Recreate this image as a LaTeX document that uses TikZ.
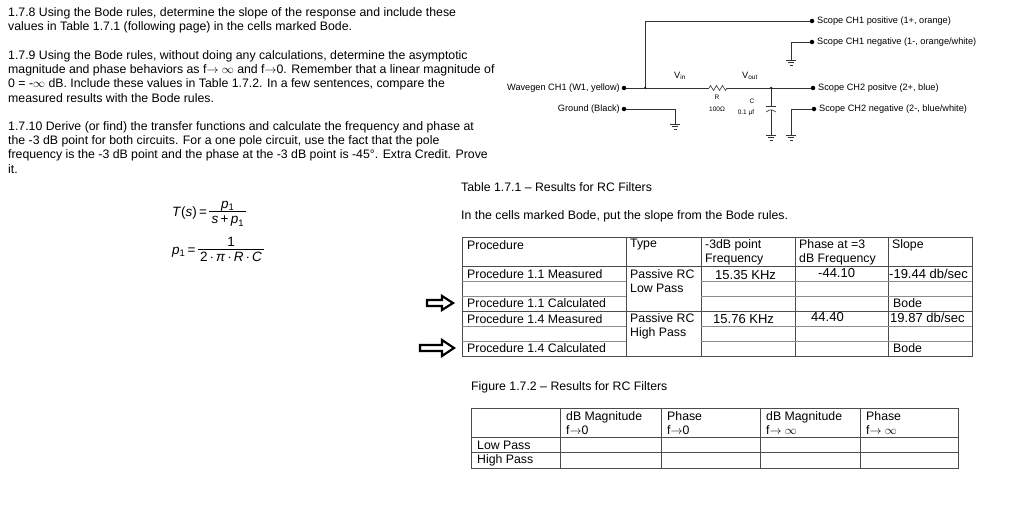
\documentclass[tikz,border=0pt]{standalone}
\usepackage{fontspec}
\setmainfont{Liberation Sans}
\begin{document}
\begin{tikzpicture}[x=1pt,y=-1pt,
 txt/.style={anchor=west,inner sep=0pt,font=\fontsize{12.3}{14}\selectfont},
 ntxt/.style={anchor=west,inner sep=0pt,font=\fontsize{13}{14}\selectfont},
 ctxt/.style={inner sep=0pt,font=\fontsize{9.2}{11}\selectfont},
 small/.style={inner sep=0pt,font=\fontsize{6.5}{7}\selectfont},
 wire/.style={line width=0.6pt,draw=black!80},
 dotn/.style={circle,fill=black,inner sep=0pt,minimum size=4.5pt},
 jn/.style={circle,fill=black,inner sep=0pt,minimum size=2.5pt},
 grid/.style={line width=0.6pt,draw=black!70},
 barrow/.style={line width=2.2pt,draw=black,fill=white,line join=miter}]
\useasboundingbox (0,0) rectangle (1024,527);
% left text
\node[txt] (t1) at (8,13) {1.7.8 Using the Bode rules, determine the slope of the response and include these};
\node[txt] (t2) at (8,27) {values in Table 1.7.1 (following page) in the cells marked Bode.};
\node[txt] (t3) at (8,56) {1.7.9 Using the Bode rules, without doing any calculations, determine the asymptotic};
\node[txt] (t4) at (8,70) {magnitude and phase behaviors as f$\rightarrow\infty$ and f$\rightarrow$0. Remember that a linear magnitude of};
\node[txt] (t5) at (8,84) {0 = -$\infty$ dB. Include these values in Table 1.7.2. In a few sentences, compare the};
\node[txt] (t6) at (8,98) {measured results with the  Bode rules.};
\node[txt] (t7) at (8,127) {1.7.10 Derive (or find) the transfer functions and calculate the frequency and phase at};
\node[txt] (t8) at (8,141) {the -3 dB point for both circuits. For a one pole circuit, use the fact that the pole};
\node[txt] (t9) at (8,155) {frequency is the -3 dB point and the phase at the -3 dB point is -45\textdegree. Extra Credit. Prove};
\node[txt] (t10) at (8,169) {it.};
% formulas
\node[inner sep=0pt,anchor=west,font=\fontsize{13.5}{15}\selectfont] (f1) at (172,213)
 {\textit{T}(\textit{s})\,=\,\begin{tabular}{@{\,}c@{\,}}\textit{p}\textsubscript{1}\\[-2pt]\hline\rule{0pt}{13pt}\textit{s}\,+\,\textit{p}\textsubscript{1}\end{tabular}};
\node[inner sep=0pt,anchor=west,font=\fontsize{13.5}{15}\selectfont] (f2) at (172,251)
 {\textit{p}\textsubscript{1}\,=\,\begin{tabular}{@{\,}c@{\,}}1\\[-2pt]\hline\rule{0pt}{13pt}2\,$\cdot$\,\textit{π}\,$\cdot$\,\textit{R}\,$\cdot$\,\textit{C}\end{tabular}};
% circuit
\node[dotn] (wg) at (624,88) {};
\node[ctxt,anchor=east] at (620,88) {Wavegen CH1 (W1, yellow)};
\node[dotn] (gb) at (624,109) {};
\node[ctxt,anchor=east] at (620,109) {Ground (Black)};
\node[jn] (j1) at (645,88) {};
\node[dotn] (c1p) at (812,21) {};
\node[ctxt,anchor=west] at (817,21) {Scope CH1 positive (1+, orange)};
\node[dotn] (c1n) at (812,42) {};
\node[ctxt,anchor=west] at (817,42) {Scope CH1 negative (1-, orange/white)};
\node[dotn] (c2p) at (813,88) {};
\node[ctxt,anchor=west] at (818,88) {Scope CH2 positve (2+, blue)};
\node[dotn] (c2n) at (814,109) {};
\node[ctxt,anchor=west] at (819,109) {Scope CH2 negative (2-, blue/white)};
\node[jn] (j2) at (771,88) {};
\coordinate (ra) at (709,88); \coordinate (rb) at (727,88);
\node[ctxt] at (680,76) {V\textsubscript{in}};
\node[ctxt] at (750,76) {V\textsubscript{out}};
\node[small] at (717,97) {R};
\node[small] at (717,109) {100Ω};
\node[small] at (752,101) {C};
\node[small] at (746,113) {0.1 µf};
\draw[wire] (wg) -- (j1) -- (ra);
\draw[wire] (ra) -- ++(1.5,-2.5) -- ++(3,5) -- ++(3,-5) -- ++(3,5) -- ++(3,-5) -- ++(3,5) -- (rb);
\draw[wire] (rb) -- (j2) -- (c2p);
\draw[wire] (j1) -- (645,21) -- (c1p);
\draw[wire] (c1n) -- (791,42) -- (791,60);
\draw[wire] (gb) -- (675,109) -- (675,124);
\draw[wire] (c2n) -- (791,109) -- (791,135);
\draw[wire] (j2) -- (771,106); \draw[wire] (766,106) -- (776,106);
\draw[wire] (766,112) .. controls (771,109) .. (776,112);
\draw[wire] (771,110) -- (771,135);
\foreach \gx/\gy in {791/60,675/124,791/135,771/135}{
 \draw[wire] (\gx-5,\gy) -- (\gx+5,\gy) (\gx-3.3,\gy+2.5) -- (\gx+3.3,\gy+2.5) (\gx-1.5,\gy+5) -- (\gx+1.5,\gy+5);}
% table 1.7.1
\node[txt] (tt) at (461,187) {Table 1.7.1 -- Results for RC Filters};
\node[txt] (ti) at (461,216) {In the cells marked Bode, put the slope from the Bode rules.};
\draw[grid] (462,237) rectangle (972,356);
\foreach \cx in {626,701,795,888} \draw[grid] (\cx,237) -- (\cx,356);
\draw[grid] (462,266) -- (972,266);
\draw[grid] (462,311) -- (972,311);
\foreach \ry in {281,296,326,341}{\draw[grid,draw=black!45] (462,\ry) -- (626,\ry); \draw[grid,draw=black!45] (701,\ry) -- (972,\ry);}
\node[txt] at (467,245) {Procedure};
\node[txt] at (630,245) {Type};
\node[txt,align=left] at (705,252) {-3dB point\\Frequency};
\node[txt,align=left] at (799,252) {Phase at =3\\dB Frequency};
\node[txt] at (892,245) {Slope};
\node[txt] at (467,274) {Procedure 1.1 Measured};
\node[txt] at (467,303) {Procedure 1.1 Calculated};
\node[txt] at (467,319) {Procedure 1.4 Measured};
\node[txt] at (467,348) {Procedure 1.4 Calculated};
\node[txt,align=left] at (630,281) {Passive RC\\Low Pass};
\node[txt,align=left] at (630,326) {Passive RC\\High Pass};
\node[ntxt] at (715,275) {15.35 KHz};
\node[ntxt] at (818,273) {-44.10};
\node[ntxt] at (889,274) {-19.44 db/sec};
\node[txt] at (893,303) {Bode};
\node[ntxt] at (713,319) {15.76 KHz};
\node[ntxt] at (811,317) {44.40};
\node[ntxt] at (890,318) {19.87 db/sec};
\node[txt] at (893,348) {Bode};
\draw[barrow] (427,300) -- (442,300) -- (442,296) -- (453,303) -- (442,310) -- (442,306) -- (427,306) -- cycle;
\draw[barrow] (420,345) -- (442,345) -- (442,340) -- (454,348) -- (442,356) -- (442,351) -- (420,351) -- cycle;
% figure 1.7.2
\node[txt] (ft) at (471,387) {Figure 1.7.2 -- Results for RC Filters};
\draw[grid] (471,408) rectangle (958,468);
\foreach \cx in {560,661,760,860} \draw[grid] (\cx,408) -- (\cx,468);
\draw[grid] (471,437) -- (958,437); \draw[grid] (471,452) -- (958,452);
\node[txt,align=left] at (566,423) {dB Magnitude\\f$\rightarrow$0};
\node[txt,align=left] at (667,423) {Phase\\f$\rightarrow$0};
\node[txt,align=left] at (766,423) {dB Magnitude\\f$\rightarrow\infty$};
\node[txt,align=left] at (866,423) {Phase\\f$\rightarrow\infty$};
\node[txt] at (477,445) {Low Pass};
\node[txt] at (477,460) {High Pass};
\end{tikzpicture}
\end{document}
